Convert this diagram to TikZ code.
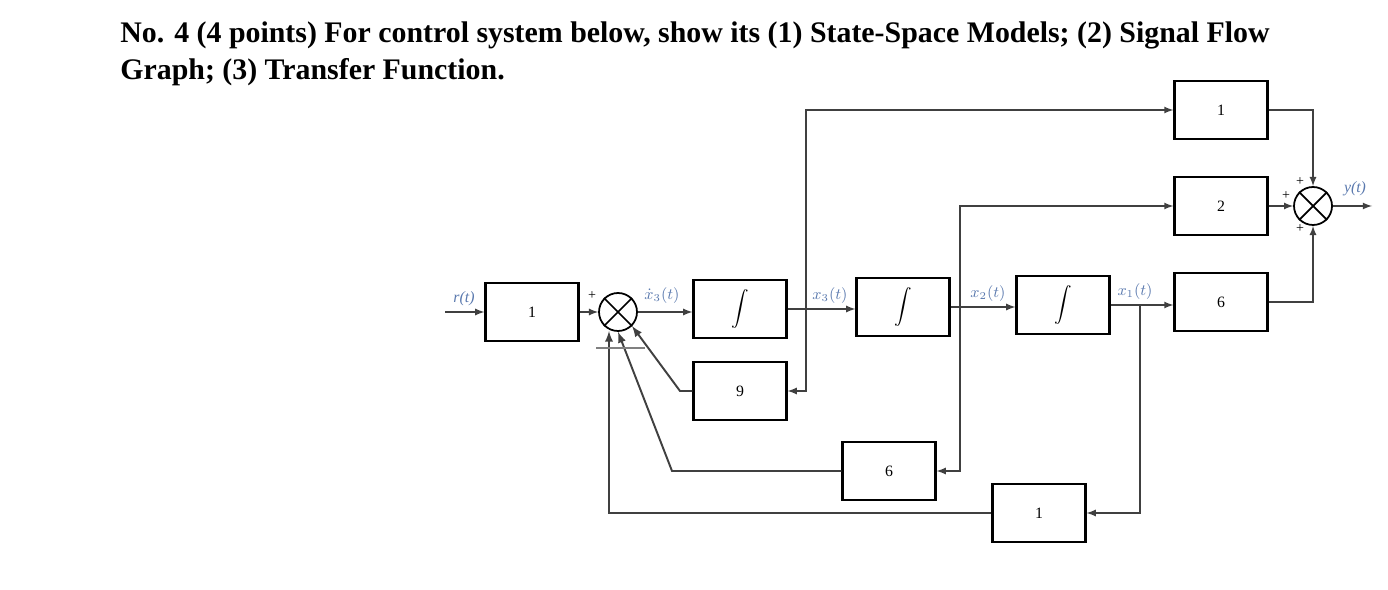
\documentclass[tikz,border=0pt]{standalone}
\usepackage{fontspec}
\setmainfont{Liberation Serif}
\newcommand{\bigint}{{\fontsize{22}{22}\selectfont$\displaystyle\int$}}
\begin{document}
\begin{tikzpicture}[x=0.02cm,y=-0.02cm,
  blk/.style={draw,line width=1.3pt,minimum width=1.86cm,minimum height=1.16cm,inner sep=0pt,font=\small},
  sumj/.style={draw,line width=1pt,circle,minimum size=0.76cm,inner sep=0pt},
  wire/.style={draw=black!75,line width=0.8pt},
  arr/.style={wire,-latex},
  lbl/.style={text=cyan!45!blue!60!gray,font=\small\itshape,inner sep=1pt},
  sgn/.style={font=\footnotesize,inner sep=0pt}]
\useasboundingbox (0,0) rectangle (1388,590);
\node[anchor=west,font=\bfseries\fontsize{17}{21}\selectfont,align=left,inner sep=0pt] (title) at (120,54)
 {No. 4 (4 points) For control system below, show its (1) State-Space Models; (2) Signal Flow\\Graph; (3) Transfer Function.};
\node[blk] (b1) at (532,312) {1};
\node[sumj] (s1) at (618,312) {};
\draw[line width=0.9pt] (s1.north west)--(s1.south east) (s1.north east)--(s1.south west);
\node[blk] (i1) at (740,309) {\bigint};
\node[blk] (i2) at (903,307) {\bigint};
\node[blk] (i3) at (1063,305) {\bigint};
\node[blk] (o6) at (1221,302) {6};
\node[blk] (o2) at (1221,206) {2};
\node[blk] (o1) at (1221,110) {1};
\node[sumj] (s2) at (1313,206) {};
\draw[line width=1pt] (s2.north west)--(s2.south east) (s2.north east)--(s2.south west);
\node[blk] (f9) at (740,391) {9};
\node[blk] (f6) at (889,471) {6};
\node[blk] (f1) at (1039,513) {1};
\coordinate (rin) at (445,312);
\coordinate (yout) at (1372,206);
\coordinate (p3) at (806,309);
\coordinate (p2) at (960,307);
\coordinate (p1) at (1140,305);
\draw[arr] (rin) -- (b1.west);
\draw[arr] (b1.east) -- (s1.west);
\draw[arr] (s1.east) -- (s1.east -| i1.west);
\draw[arr] (i1.east) -- (i1.east -| i2.west);
\draw[arr] (i2.east) -- (i2.east -| i3.west);
\draw[arr] (i3.east) -- (i3.east -| o6.west);
\draw[arr] (p3) |- (o1.west);
\draw[arr] (p3) |- (f9.east);
\draw[arr] (p2) |- (o2.west);
\draw[arr] (p2) |- (f6.east);
\draw[arr] (p1) |- (f1.east);
\draw[arr,line width=1.1pt] (f9.west) -- (680,391) -- (s1.south east);
\draw[arr,line width=1.1pt] (f6.west) -- (672,471) -- (s1.south);
\draw[arr,line width=1.1pt] (f1.west) -- (609,513) -- (609,331);
\draw[arr] (o1.east) -| (s2.north);
\draw[arr] (o6.east) -| (s2.south);
\draw[arr] (o2.east) -- (s2.west);
\draw[arr] (s2.east) -- (yout);
\draw[draw=black!50,line width=0.8pt] (596,348) -- (645,348);
\node[lbl] (lr) at (464,299) {r(t)};
\node[lbl] (lx3d) at (662,296) {$\dot{x}_3(t)$};
\node[lbl] (lx3) at (830,296) {$x_3(t)$};
\node[lbl] (lx2) at (988,294) {$x_2(t)$};
\node[lbl] (lx1) at (1135,292) {$x_1(t)$};
\node[lbl] (ly) at (1355,189) {y(t)};
\node[sgn] (pa) at (592,296) {+};
\node[sgn] (pb) at (1286,196) {+};
\node[sgn] (pc) at (1300,182) {+};
\node[sgn] (pd) at (1300,229) {+};
\end{tikzpicture}
\end{document}
